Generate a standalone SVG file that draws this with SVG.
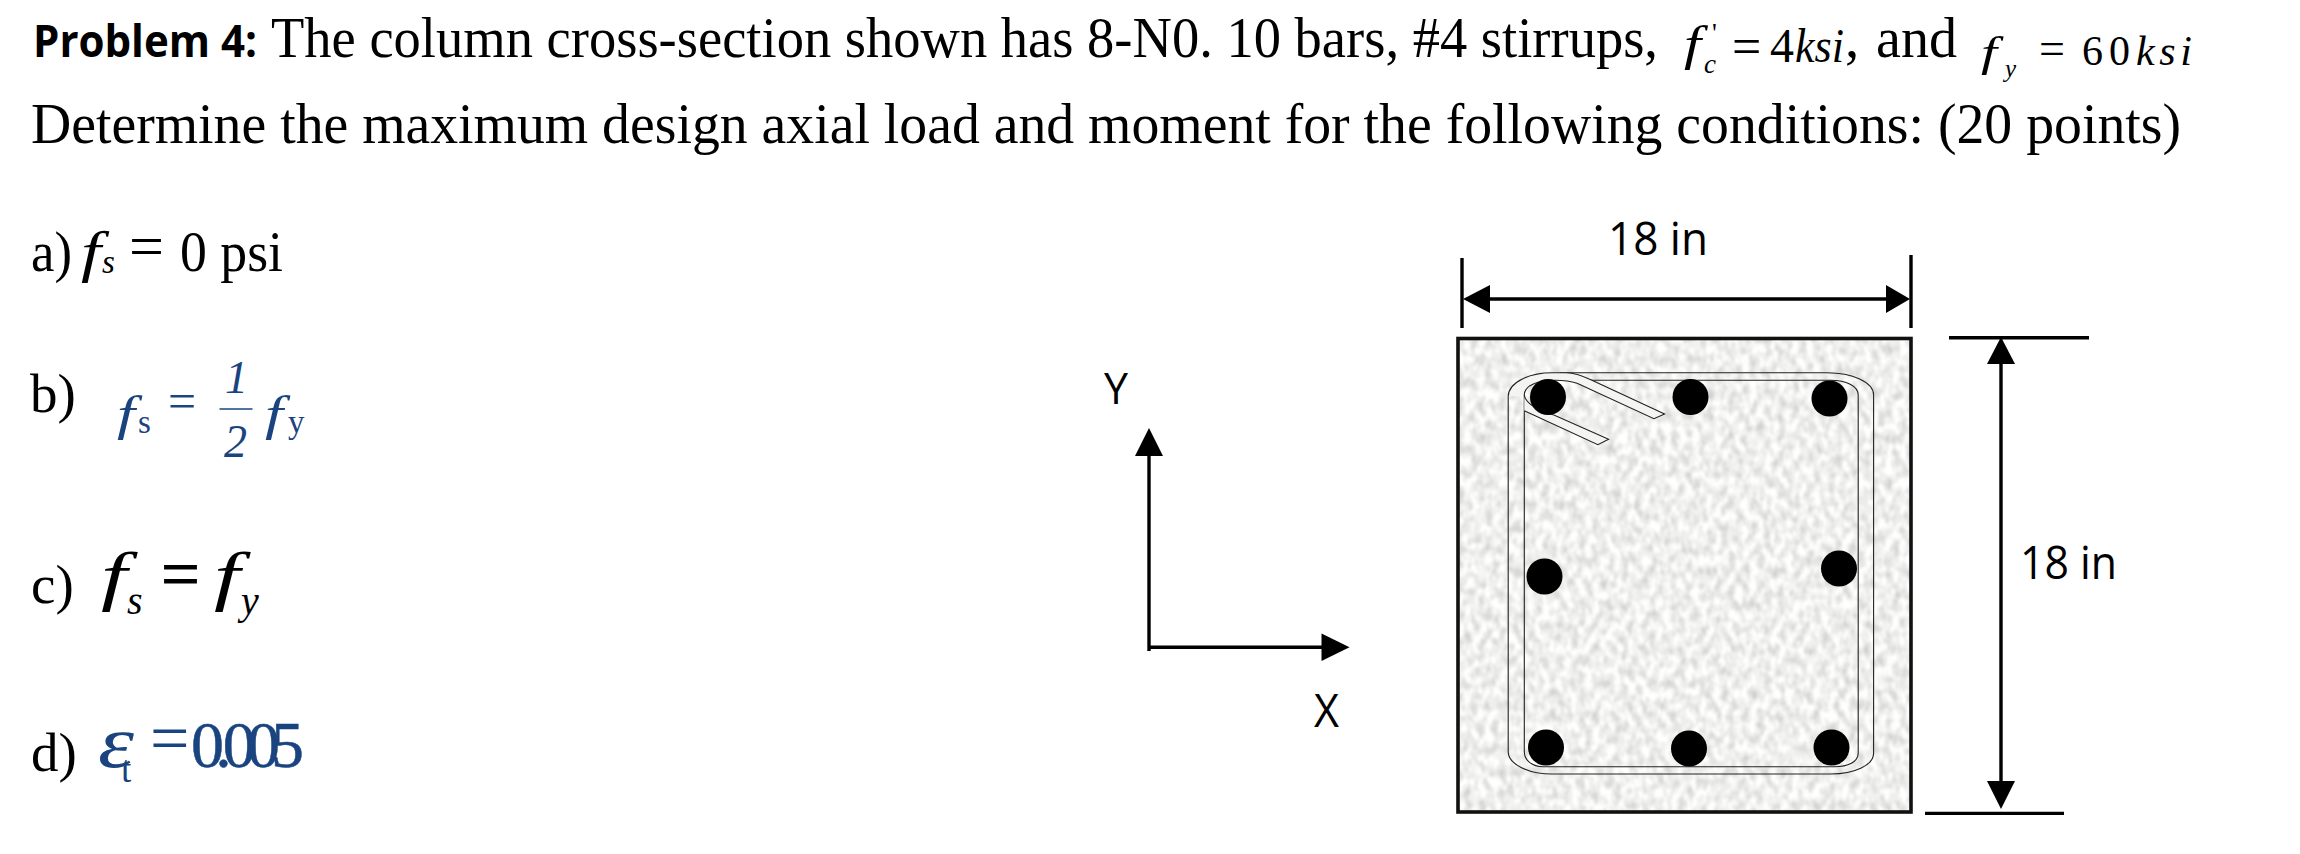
<svg xmlns="http://www.w3.org/2000/svg" width="2300" height="854" viewBox="0 0 2300 854">
<style>
.t{font-family:"Liberation Serif","Times New Roman",serif;fill:#000}
.i{font-style:italic}
.b{fill:#1a4480}
.s{font-family:"Open Sans","Liberation Sans",sans-serif;fill:#000}
.line{stroke:#000;stroke-width:3.4;fill:none}
.hair{stroke:#222;stroke-width:1.1;fill:none}
.hook{stroke:#222;stroke-width:1.1;fill:#f4f4f2}
.bar{fill:#000}
</style>
<defs>
<filter id="concrete" x="0" y="0" width="100%" height="100%" color-interpolation-filters="sRGB">
<feTurbulence type="fractalNoise" baseFrequency="0.14 0.09" numOctaves="2" seed="7"/>
<feColorMatrix type="matrix" values="0.36 0 0 0 0.76 0.36 0 0 0 0.76 0.36 0 0 0 0.755 0 0 0 0 1"/>
<feGaussianBlur stdDeviation="1"/>
</filter>
</defs>
<rect width="2300" height="854" fill="#fff"/>

<g id="problem-text">
<text class="s" x="33" y="57" font-size="44" font-weight="700" textLength="224" lengthAdjust="spacingAndGlyphs">Problem 4:</text>
<text class="t" x="271" y="57" font-size="57" textLength="1387" lengthAdjust="spacingAndGlyphs">The column cross-section shown has 8-N0. 10 bars, #4 stirrups,</text>
<text class="t i" x="1684" y="60" font-size="48" textLength="17" lengthAdjust="spacingAndGlyphs">f</text>
<text class="t i" x="1704" y="73" font-size="27">c</text>
<text class="t" x="1712" y="42" font-size="27">'</text>
<text class="t" x="1732" y="64" font-size="52">=</text>
<text class="t" x="1770" y="62" font-size="48">4</text>
<text class="t i" x="1795" y="62" font-size="48" textLength="49" lengthAdjust="spacingAndGlyphs">ksi</text>
<text class="t" x="1845" y="57" font-size="57">,</text>
<text class="t" x="1876" y="57" font-size="57" textLength="81" lengthAdjust="spacingAndGlyphs">and</text>
<text class="t i" x="1981" y="66" font-size="43" textLength="16" lengthAdjust="spacingAndGlyphs">f</text>
<text class="t i" x="2005" y="77" font-size="25">y</text>
<text class="t" x="2039" y="64" font-size="46">=</text>
<text class="t" x="2082" y="65" font-size="42" textLength="48">60</text>
<text class="t i" x="2136" y="65" font-size="42" textLength="56">ksi</text>
<text class="t" x="31" y="143" font-size="57" textLength="2150" lengthAdjust="spacingAndGlyphs">Determine the maximum design axial load and moment for the following conditions: (20 points)</text>
</g>

<g id="condition-a">
<text class="t" x="31" y="271" font-size="56" textLength="41" lengthAdjust="spacingAndGlyphs">a)</text>
<text class="t i" x="81" y="271" font-size="56" textLength="20" lengthAdjust="spacingAndGlyphs">f</text>
<text class="t i" x="102" y="273" font-size="33">s</text>
<text class="t" x="129" y="267" font-size="62">=</text>
<text class="t" x="180" y="271" font-size="56" textLength="103" lengthAdjust="spacingAndGlyphs">0 psi</text>
</g>

<g id="condition-b">
<text class="t" x="30" y="412" font-size="55">b)</text>
<text class="t i b" x="117" y="430" font-size="48" textLength="18" lengthAdjust="spacingAndGlyphs">f</text>
<text class="t b" x="138" y="433" font-size="33">s</text>
<text class="t b" x="168" y="418" font-size="50">=</text>
<text class="t i b" x="225" y="393" font-size="46">1</text>
<line x1="219.5" y1="409" x2="252.5" y2="409" stroke="#1a4480" stroke-width="1.6"/>
<text class="t i b" x="224" y="457" font-size="46">2</text>
<text class="t i b" x="265" y="430" font-size="48" textLength="18" lengthAdjust="spacingAndGlyphs">f</text>
<text class="t b" x="288" y="433" font-size="33">y</text>
</g>

<g id="condition-c">
<text class="t" x="31" y="603" font-size="55">c)</text>
<text class="t i" x="101" y="598" font-size="66" textLength="26" lengthAdjust="spacingAndGlyphs">f</text>
<text class="t i" x="127" y="614" font-size="40">s</text>
<text class="t" x="161" y="598" font-size="69" stroke="#000" stroke-width=".8">=</text>
<text class="t i" x="214" y="598" font-size="66" textLength="26" lengthAdjust="spacingAndGlyphs">f</text>
<text class="t i" x="241" y="614" font-size="40">y</text>
</g>

<g id="condition-d">
<text class="t" x="31" y="771" font-size="55">d)</text>
<text class="t i b" x="98" y="767" font-size="74" textLength="36" lengthAdjust="spacingAndGlyphs">ε</text>
<text class="t b" x="121" y="782" font-size="37">t</text>
<text class="t b" x="150" y="762" font-size="70">=</text>
<text class="t b" x="191" y="767" font-size="66" textLength="113" lengthAdjust="spacing" stroke="#1a4480" stroke-width=".5">0.005</text>
</g>

<g id="axes">
<path class="line" d="M1149 651V450"/>
<path class="line" d="M1149 647.3H1326"/>
<polygon points="1149,428 1135,456 1163,456"/>
<polygon points="1349.5,647.3 1321.5,633.5 1321.5,661"/>
<text class="s" x="1104" y="404" font-size="44" textLength="24" lengthAdjust="spacingAndGlyphs">Y</text>
<text class="s" x="1314" y="727" font-size="45" textLength="25" lengthAdjust="spacingAndGlyphs">X</text>
</g>

<g id="column">
<rect x="1458" y="338.5" width="453" height="473.5" fill="#ddd" filter="url(#concrete)"/>
<rect x="1458" y="338.5" width="453" height="473.5" fill="none" stroke="#111" stroke-width="3.6"/>
<path class="hair" d="M1508.2 396.7V751.7C1508.2 764 1528 774 1552 774H1830.7C1855 774 1873.6 765 1873.6 753.3V395C1873.6 382 1852 372.7 1827 372.7H1560"/>
<path class="hair" d="M1524.3 395V751.7C1524.3 760 1532 766.7 1543 766.7H1834.3C1848 766.7 1858.2 762 1858.2 753.3V395C1858.2 386 1846 380.3 1830.7 380.3H1585"/>
<path class="hook" d="M1508.2 396.7C1508.2 382 1530 372.7 1552 372.7H1566C1575 372.7 1583 376 1591.4 380L1664.6 414L1653.9 418.7L1577.1 383.3C1570 381 1562 380.3 1555.7 380.3C1538 380.3 1524.3 385 1524.3 395"/>
<path class="hook" d="M1524.3 395C1525 403 1540 412 1553.9 415L1608.6 439.3L1597.9 444.7L1524.3 410.7"/>
<circle class="bar" cx="1548" cy="397" r="18"/>
<circle class="bar" cx="1690.5" cy="397" r="18"/>
<circle class="bar" cx="1829.5" cy="398.5" r="18"/>
<circle class="bar" cx="1544.5" cy="576.5" r="18"/>
<circle class="bar" cx="1839" cy="568.5" r="18"/>
<circle class="bar" cx="1546" cy="747.5" r="18"/>
<circle class="bar" cx="1689" cy="748.5" r="18"/>
<circle class="bar" cx="1831.5" cy="747.5" r="18"/>
</g>

<g id="dimensions">
<path class="line" d="M1462 258V328M1911 255V328M1485 299H1890"/>
<polygon points="1463,299 1490,285 1490,313"/>
<polygon points="1910,299 1886,285 1886,313"/>
<text class="s" x="1608" y="255" font-size="45" textLength="100" lengthAdjust="spacingAndGlyphs">18 in</text>
<path class="line" d="M1949 337.8H2089M1925 813.4H2064M2001 360V785"/>
<polygon points="2001,337 1987,364 2015,364"/>
<polygon points="2001,809 1987,781 2015,781"/>
<text class="s" x="2020" y="579" font-size="45" textLength="97" lengthAdjust="spacingAndGlyphs">18 in</text>
</g>
</svg>
